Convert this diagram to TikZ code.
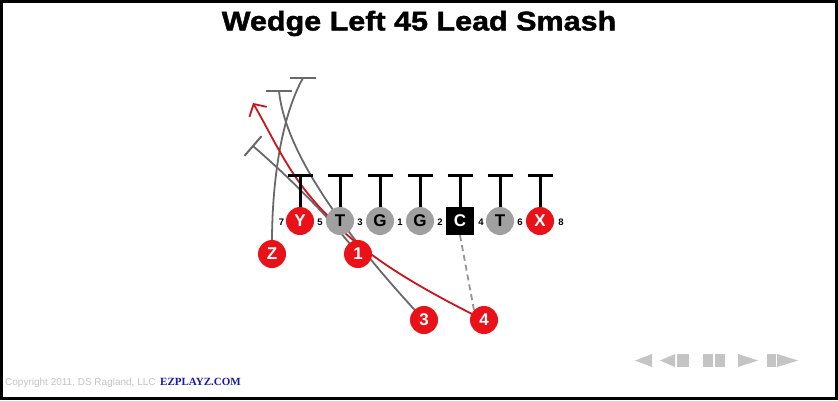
\documentclass[tikz,border=0pt]{standalone}
\usepackage{fontspec}
\setmainfont{Liberation Sans}
\newfontfamily\titlefont[FakeStretch=1.13,FakeBold=1.6]{Liberation Sans}
\newfontfamily\ezfont{Liberation Serif}
\usetikzlibrary{arrows.meta}
\pgfdeclarelayer{bg}
\pgfsetlayers{bg,main}
\definecolor{pred}{RGB}{232,18,24}
\definecolor{pgray}{RGB}{160,160,160}
\definecolor{rgray}{RGB}{105,105,105}
\definecolor{rred}{RGB}{205,20,28}
\definecolor{dgray}{RGB}{150,150,150}
\definecolor{ctrl}{RGB}{196,196,196}
\definecolor{copy}{RGB}{195,195,195}
\definecolor{ezblue}{RGB}{25,25,170}
\tikzset{
  player/.style={circle, minimum size=28pt, inner sep=0pt, font=\bfseries\fontsize{17}{17}\selectfont},
  offp/.style={player, fill=pred, text=white},
  linep/.style={player, fill=pgray, text=black},
  cent/.style={rectangle, minimum size=28pt, inner sep=0pt, fill=black, text=white, font=\bfseries\fontsize{17}{17}\selectfont},
  numl/.style={font=\bfseries\fontsize{9.5}{10}\selectfont, inner sep=0pt},
  blk/.style={draw=black, line width=3pt},
  route/.style={draw=rgray, line width=1.8pt},
  rroute/.style={draw=rred, line width=1.8pt},
  rbar/.style={draw=rgray, line width=2pt},
  dashroute/.style={draw=dgray, line width=1.8pt, dash pattern=on 6pt off 4pt},
  ctrlshape/.style={fill=ctrl, draw=none}
}
\begin{document}
\begin{tikzpicture}[x=1pt,y=-1pt]
\useasboundingbox (0,0) rectangle (838,400);

\node (title) at (419,23.5) {\titlefont\bfseries\fontsize{27}{27}\selectfont Wedge Left 45 Lead Smash};

% players
\node[offp] (pY) at (300,221) {Y};
\node[linep] (pT1) at (340,221) {T};
\node[linep] (pG1) at (380,221) {G};
\node[linep] (pG2) at (420,221) {G};
\node[cent] (pC) at (460,221) {C};
\node[linep] (pT2) at (500,221) {T};
\node[offp] (pX) at (540,221) {X};
\node[offp] (nZ) at (272,254) {Z};
\node[offp] (n1) at (358,254) {1};
\node[offp] (n3) at (424,320) {3};
\node[offp] (n4) at (484,320) {4};

% hole numbers
\node[numl] (h7) at (281.5,222) {7};
\node[numl] (h5) at (320,222) {5};
\node[numl] (h3) at (360,222) {3};
\node[numl] (h1) at (400,222) {1};
\node[numl] (h2) at (440,222) {2};
\node[numl] (h4) at (481,222) {4};
\node[numl] (h6) at (520,222) {6};
\node[numl] (h8) at (561,222) {8};

% blocks of the line
\foreach \n in {pY,pT1,pG1,pG2,pC,pT2,pX}{
  \draw[blk] (\n.north) -- ++(0,-31) coordinate (b\n);
  \draw[blk] ([xshift=-12.5pt]b\n) -- ([xshift=12.5pt]b\n);
}

% end points of routes
\coordinate (zend) at (303,78);
\coordinate (e3) at (279,91);
\coordinate (e1) at (253,146);
\coordinate (tip4) at (253,103);

\begin{pgfonlayer}{bg}
  \fill[white] (0,0) rectangle (838,400);
  % Z route
  \draw[route] (nZ.center) .. controls (271,170) and (285,110) .. (zend);
  \draw[rbar] ([xshift=-13pt]zend) -- ([xshift=13pt]zend);
  % 3 route
  \draw[route] (n3.center) .. controls (340,230) and (285,150) .. (e3);
  \draw[rbar] ([xshift=-13pt]e3) -- ([xshift=13pt]e3);
  % 1 route
  \draw[route] (n1.center) .. controls (330,218) and (290,178) .. (e1);
  \draw[rbar] (244.5,155.8) -- (261.5,136.2);
  % 4 route
  \draw[rroute, -{Straight Barb[length=9pt,width=20pt,line width=1.8pt]}]
    (n4.center) .. controls (424,290) and (366,258) .. (327,215)
    .. controls (290,178) and (275.5,142) .. (tip4);
  % dashed
  \draw[dashroute] (pC.south) -- (n4.north west);
\end{pgfonlayer}

\draw[black, line width=2.5pt] (1.25,1.25) rectangle (836.5,398.5);

% footer
\node[anchor=base west, inner sep=0pt, text=copy, font=\fontsize{10}{10}\selectfont] (cpy) at (5,385) {Copyright 2011, DS Ragland, LLC};
\node[anchor=base west, inner sep=0pt, text=ezblue, font=\ezfont\bfseries\fontsize{11}{11}\selectfont] (ez) at (160,385) {EZPLAYZ.COM};

% media controls
\fill[ctrlshape] (652,354) -- (652,367) -- (635,360.5) -- cycle;
\fill[ctrlshape] (675,354) -- (675,367) -- (660,360.5) -- cycle;
\fill[ctrlshape] (676.5,354) rectangle (689,367);
\fill[ctrlshape] (703,354) rectangle (713,367);
\fill[ctrlshape] (715,354) rectangle (725,367);
\fill[ctrlshape] (738,354) -- (738,367) -- (758,360.5) -- cycle;
\fill[ctrlshape] (767,354) rectangle (775.5,367);
\fill[ctrlshape] (777,354) -- (777,367) -- (798,360.5) -- cycle;
\end{tikzpicture}
\end{document}
